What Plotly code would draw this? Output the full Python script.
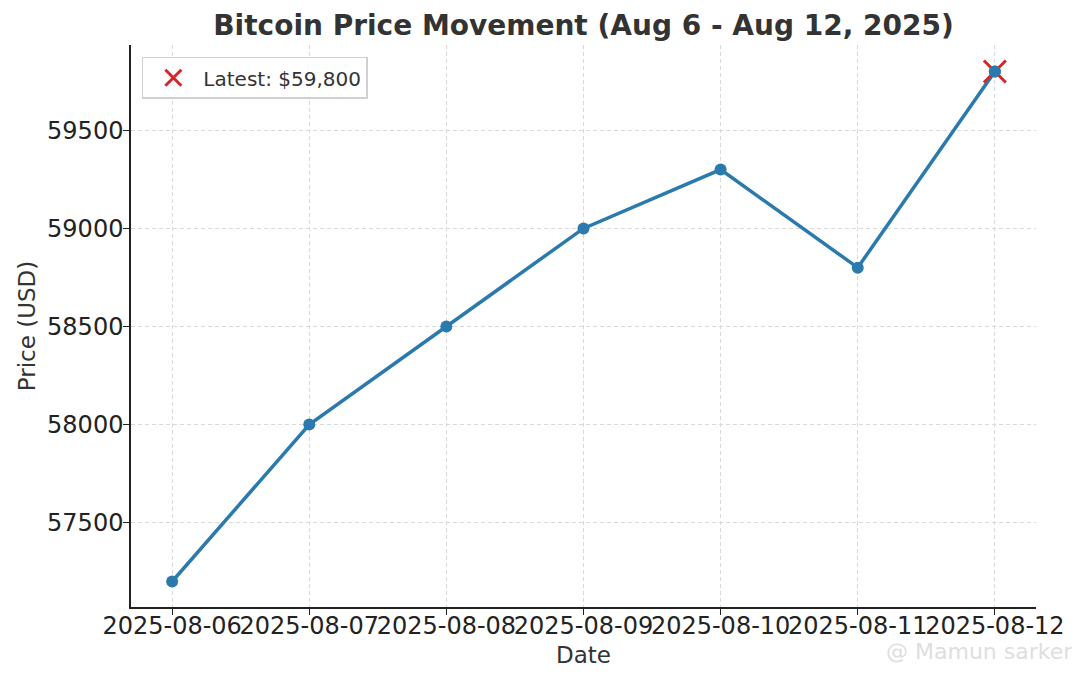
import plotly.graph_objects as go

dates = ["2025-08-06", "2025-08-07", "2025-08-08", "2025-08-09", "2025-08-10", "2025-08-11", "2025-08-12"]
prices = [57200, 58000, 58500, 59000, 59300, 58800, 59800]
latest_label = "Latest: $59,800"
y_ticks = [57500, 58000, 58500, 59000, 59500]

fig = go.Figure()
fig.add_trace(go.Scatter(
    x=dates, y=prices, mode="lines+markers",
    line=dict(color="#2a7aad", width=3.5),
    marker=dict(color="#2a7aad", size=12),
    showlegend=False, cliponaxis=False,
))
fig.add_trace(go.Scatter(
    x=[dates[-1]], y=[prices[-1]], mode="markers",
    marker=dict(symbol="x-thin-open", size=22, color="#d62728", line=dict(width=3, color="#d62728")),
    name=latest_label, showlegend=True, cliponaxis=False,
))
fig.add_trace(go.Scatter(
    x=[dates[-1]], y=[prices[-1]], mode="markers",
    marker=dict(color="#2a7aad", size=12), showlegend=False, cliponaxis=False,
))

font = "DejaVu Sans"
fig.update_layout(
    width=1080, height=676,
    paper_bgcolor="white", plot_bgcolor="white",
    margin=dict(l=123, r=52, t=37, b=77, autoexpand=False),
    font=dict(family=font, color="#222222", size=24),
    title=dict(text="<b>Bitcoin Price Movement (Aug 6 - Aug 12, 2025)</b>",
               x=0.5, xanchor="center", xref="paper", y=0.975, yanchor="middle",
               font=dict(family=font, size=28, color="#333333")),
    legend=dict(x=0.012, y=0.979, xanchor="left", yanchor="top", itemwidth=50,
                bgcolor="rgba(255,255,255,0.9)", bordercolor="#d0d0d0", borderwidth=1.5,
                font=dict(family=font, size=20, color="#333333")),
    showlegend=True,
)
fig.update_xaxes(
    type="category", range=[-0.3, 6.3], automargin=False, tickangle=0,
    ticklabelstandoff=-10,
    title=dict(text="Date", font=dict(size=23, color="#333333"), standoff=8),
    showline=True, linecolor="#222222", linewidth=1.5, mirror=False,
    ticks="outside", ticklen=6, tickcolor="#222222",
    showgrid=True, gridcolor="#d9d9d9", griddash="4px,3px", gridwidth=1,
    tickfont=dict(size=24, color="#222222"), zeroline=False,
)
fig.update_yaxes(
    range=[57070, 59935], tickvals=y_ticks, ticktext=[str(v) for v in y_ticks], automargin=False,
    ticklabelstandoff=-5,
    title=dict(text="Price (USD)", font=dict(size=23, color="#333333"), standoff=5),
    showline=True, linecolor="#222222", linewidth=1.5, mirror=False,
    ticks="outside", ticklen=6, tickcolor="#222222",
    showgrid=True, gridcolor="#d9d9d9", griddash="4px,3px", gridwidth=1,
    tickfont=dict(size=24, color="#222222"), zeroline=False,
)
fig.add_annotation(text="@ Mamun sarker", xref="paper", yref="paper", x=1.043, y=-0.08,
                   xanchor="right", yanchor="middle", showarrow=False,
                   font=dict(family=font, size=22, color="rgba(200,200,200,0.6)"))
fig.write_html("out.html")
